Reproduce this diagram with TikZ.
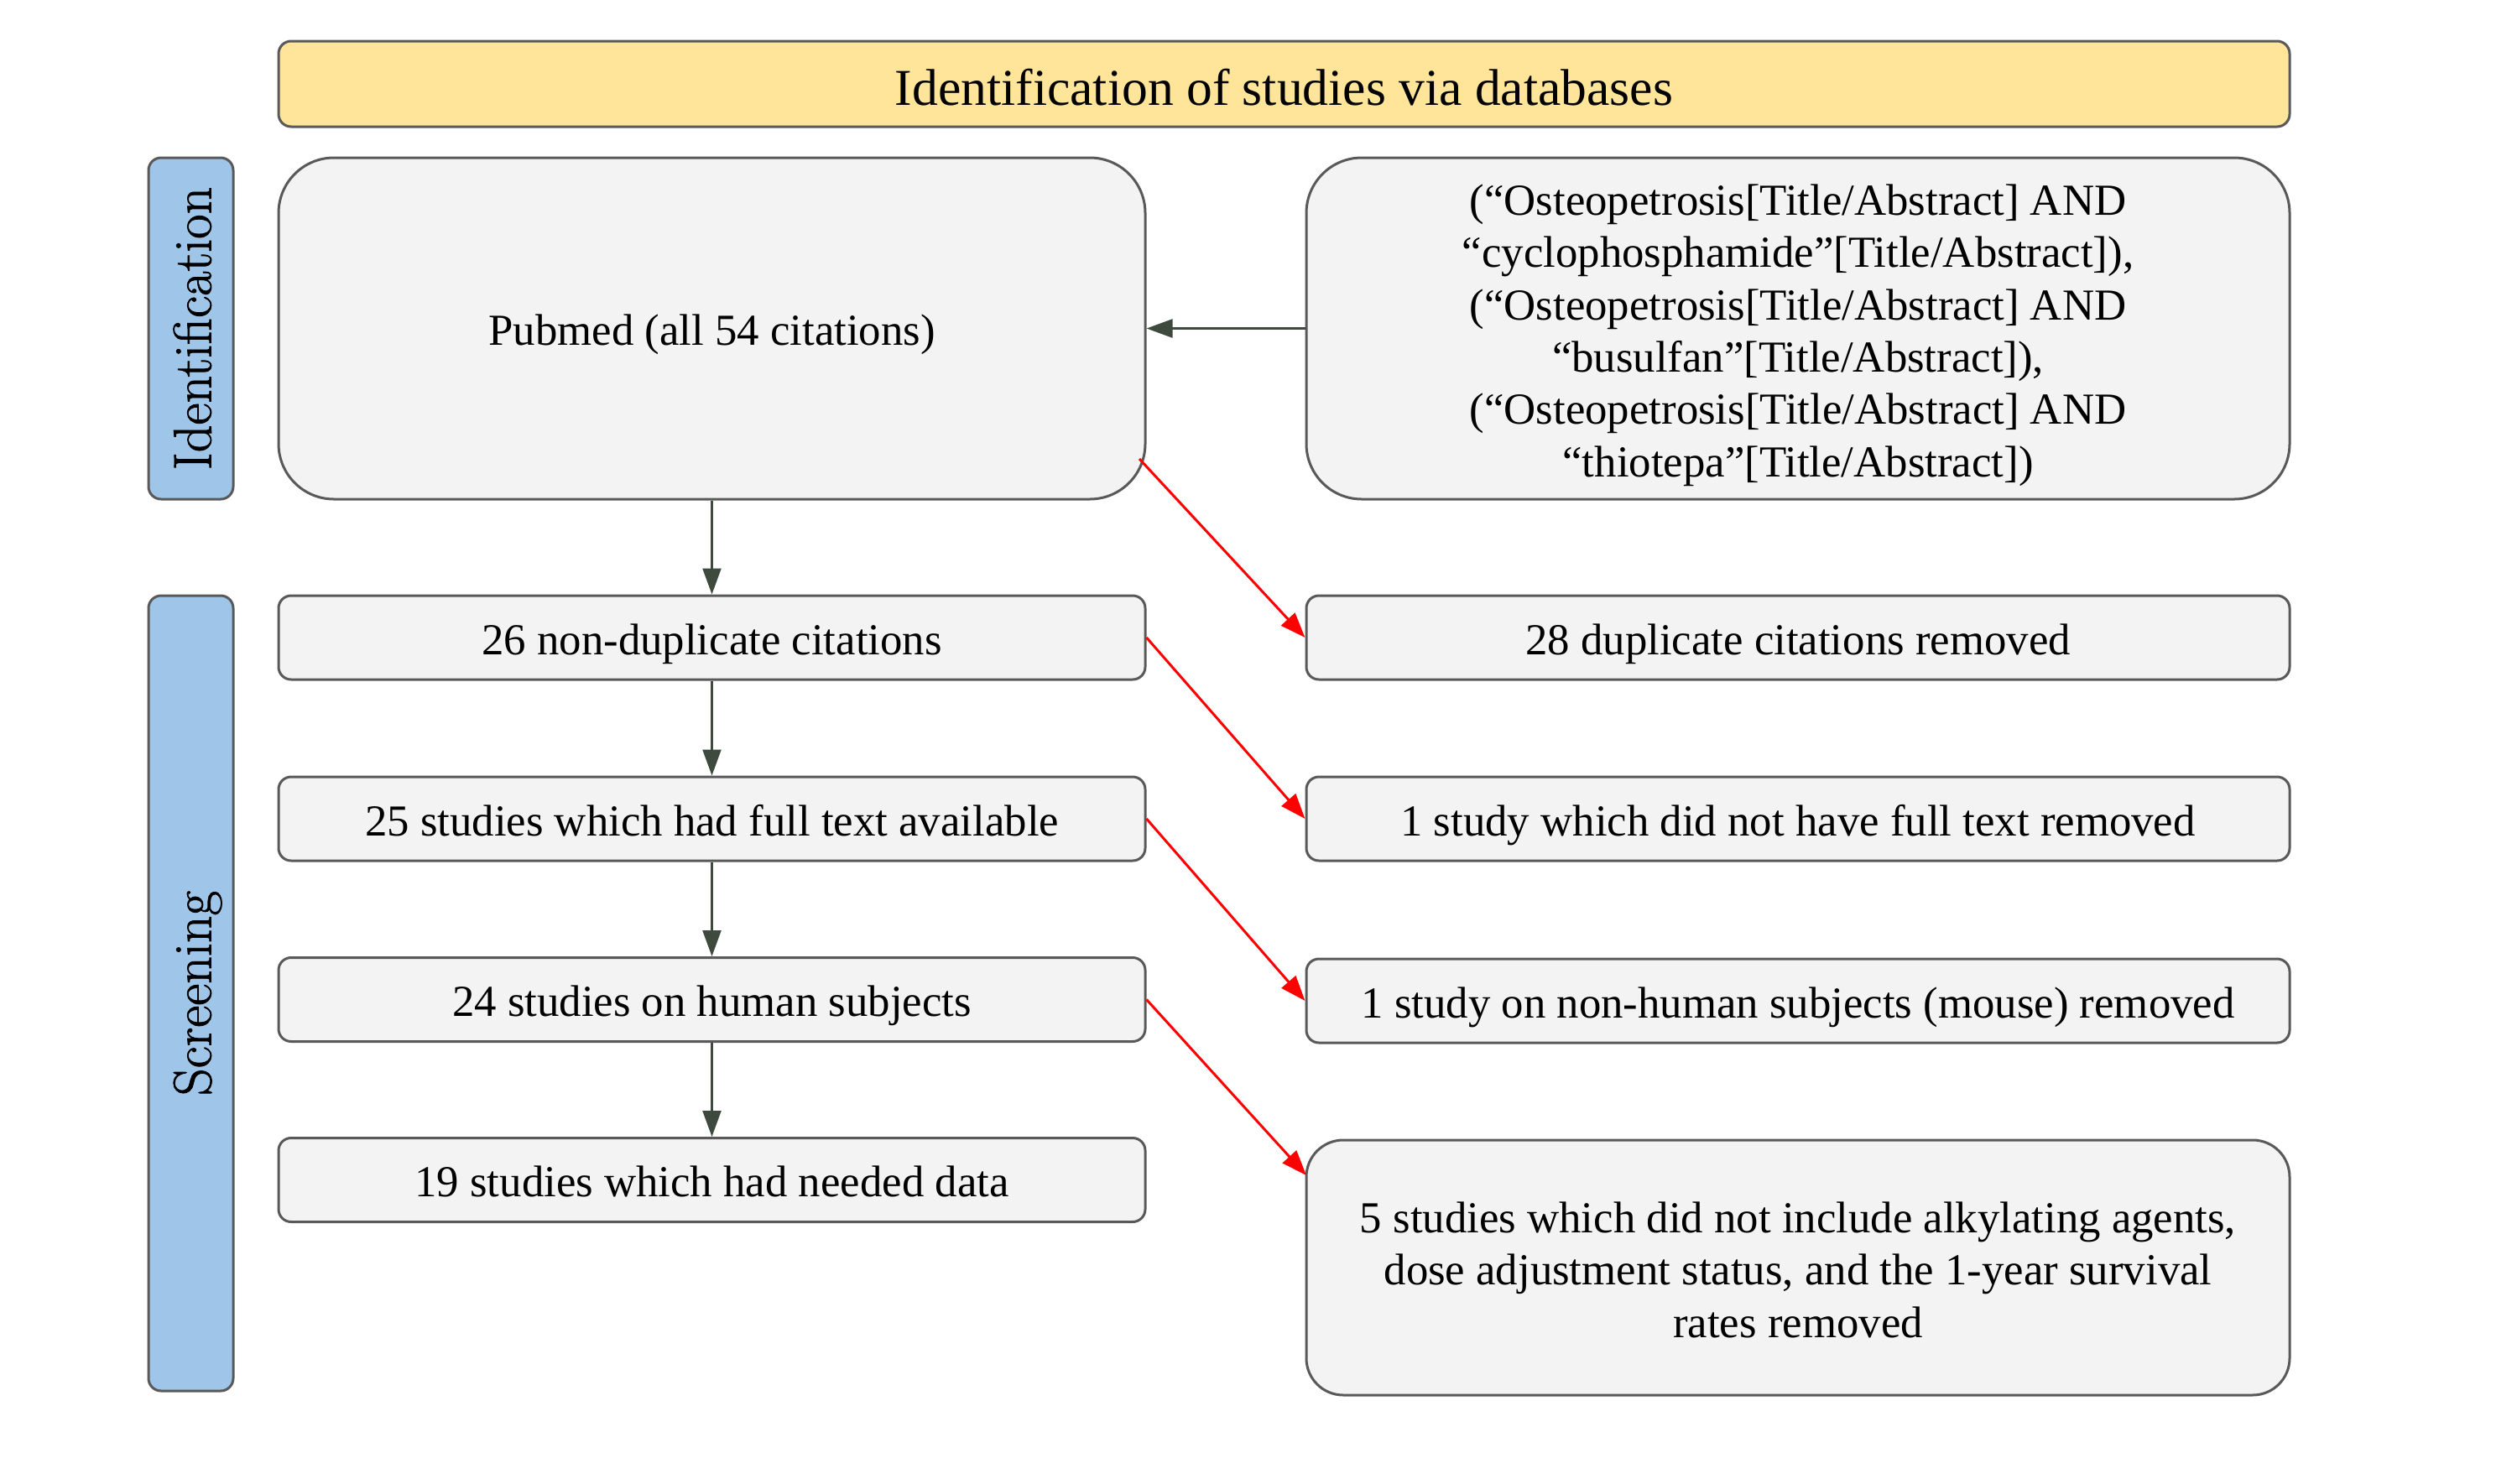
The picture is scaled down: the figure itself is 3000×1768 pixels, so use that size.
\documentclass[tikz,border=0pt]{standalone}
\usepackage{fontspec}
\setmainfont{Liberation Serif}
\newfontfamily\lmfont{Latin Modern Roman}[FakeBold=1.2]
\usetikzlibrary{arrows.meta}
\definecolor{titlefill}{HTML}{FFE599}
\definecolor{sidefill}{HTML}{9FC5E8}
\definecolor{boxfill}{HTML}{F3F3F3}
\definecolor{edgecol}{HTML}{595959}
\definecolor{darkarrow}{HTML}{3F4A3F}
\definecolor{redarrow}{HTML}{FF0000}
\begin{document}
\begin{tikzpicture}[x=0.25pt,y=-0.25pt,
 base/.style={draw=edgecol, line width=0.75pt, inner sep=0pt, font=\fontsize{13.2}{15.6}\selectfont},
 multi/.style={align=center},
 oneline/.style={text height=13.2pt, text depth=3.2pt},
 titlebox/.style={base, fill=titlefill, rounded corners=3.75pt, font=\fontsize{15.4}{18}\selectfont, text height=12.6pt, text depth=0pt},
 sidebox/.style={base, fill=sidefill, rounded corners=3.75pt, rotate=90, font=\lmfont\fontsize{16}{19}\selectfont, text height=12pt, text depth=0pt},
 smallbox/.style={base, oneline, fill=boxfill, rounded corners=3.75pt},
 bigbox/.style={base, fill=boxfill, rounded corners=16.5pt},
 darr/.style={draw=darkarrow, line width=0.6pt, -{Triangle[length=7.75pt,width=5.5pt]}},
 rarr/.style={draw=redarrow, line width=0.75pt, -{Triangle[length=7.5pt,width=5.5pt]}},
]
\useasboundingbox (0,0) rectangle (3000,1768);

\node[titlebox, minimum width=599.25pt, minimum height=25.5pt] (title) at (1530.5,100) {Identification of studies via databases};

\node[sidebox, minimum width=101.75pt, minimum height=25.25pt] (ident) at (227.5,391.5) {Identification};
\node[sidebox, minimum width=237pt, minimum height=25.25pt] (screen) at (227.5,1184) {Screening};

\node[bigbox, oneline, minimum width=258.25pt, minimum height=101.75pt] (pubmed) at (848.5,391.5) {Pubmed (all 54 citations)};
\node[bigbox, multi, minimum width=293pt, minimum height=101.75pt] (search) at (2143,391.5) {\rule{0pt}{1em}(“Osteopetrosis[Title/Abstract] AND\\“cyclophosphamide”[Title/Abstract]),\\(“Osteopetrosis[Title/Abstract] AND\\“busulfan”[Title/Abstract]),\\(“Osteopetrosis[Title/Abstract] AND\\“thiotepa”[Title/Abstract])};

\node[smallbox, minimum width=258.25pt, minimum height=25pt] (n26) at (848.5,760) {26 non-duplicate citations};
\node[smallbox, minimum width=258.25pt, minimum height=25pt] (n25) at (848.5,976) {25 studies which had full text available};
\node[smallbox, minimum width=258.25pt, minimum height=25pt] (n24) at (848.5,1191.5) {24 studies on human subjects};
\node[smallbox, minimum width=258.25pt, minimum height=25pt] (n19) at (848.5,1406.5) {19 studies which had needed data};

\node[smallbox, minimum width=293pt, minimum height=25pt] (r28) at (2143,760) {28 duplicate citations removed};
\node[smallbox, minimum width=293pt, minimum height=25pt] (r1a) at (2143,976) {1 study which did not have full text removed};
\node[smallbox, minimum width=293pt, minimum height=25pt] (r1b) at (2143,1193) {1 study on non-human subjects (mouse) removed};
\node[base, multi, fill=boxfill, rounded corners=11pt, minimum width=293pt, minimum height=76pt, font=\fontsize{13.2}{15.7}\selectfont] (r5) at (2143,1511) {\rule{0pt}{0.8em}5 studies which did not include alkylating agents,\\dose adjustment status, and the 1-year survival\\rates removed};

\draw[darr] (search.west) -- (pubmed.east);
\draw[darr] (pubmed.south) -- (n26.north);
\draw[darr] (n26.south) -- (n25.north);
\draw[darr] (n25.south) -- (n24.north);
\draw[darr] (n24.south) -- (n19.north);

\coordinate (s1) at (1358,547);
\coordinate (e5) at (1557,1401);
\draw[rarr] (s1) -- (r28.west);
\draw[rarr] (n26.east) -- (r1a.west);
\draw[rarr] (n25.east) -- (r1b.west);
\draw[rarr] (n24.east) -- (e5);
\end{tikzpicture}
\end{document}
